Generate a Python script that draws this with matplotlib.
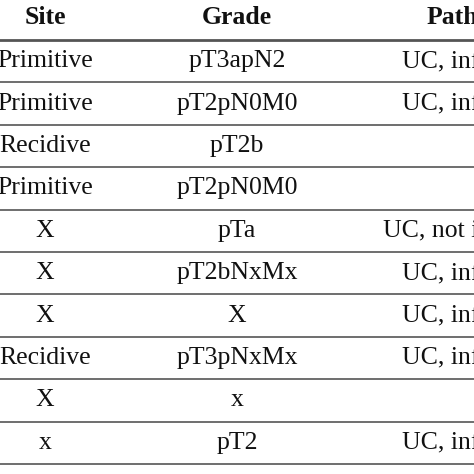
import matplotlib.pyplot as plt

headers = ["Site", "Grade", "Pathology"]
site = ["Primitive", "Primitive", "Recidive", "Primitive", "X", "X", "X", "Recidive", "X", "x"]
grade = ["pT3apN2", "pT2pN0M0", "pT2b", "pT2pN0M0", "pTa", "pT2bNxMx", "X", "pT3pNxMx", "x", "pT2"]
path = ["UC, infiltrating", "UC, infiltrating", "", "", "UC, not infiltrating",
        "UC, infiltrating", "UC, infiltrating", "UC, infiltrating", "", "UC, infiltrating"]

fig = plt.figure(figsize=(4.74, 4.74), dpi=100)
ax = fig.add_axes([0, 0, 1, 1])
ax.set_xlim(0, 474)
ax.set_ylim(474, 0)
ax.axis("off")

font = dict(family="Liberation Serif", fontsize=18.5, color="#111111", va="center", ha="center")
cols = [45, 237, 482]
for x, h in zip(cols, headers):
    ax.text(x, 17, h, fontweight="bold", **font)
ax.axhline(40, color="#555555", lw=2)
rh = 42.4
for i, row in enumerate(zip(site, grade, path)):
    yc = 40 + rh * (i + 0.5)
    for x, t in zip(cols, row):
        ax.text(x, yc, t, **font)
    ax.axhline(40 + rh * (i + 1), color="#555555", lw=1.2)

fig.savefig("out.png", dpi=100)
